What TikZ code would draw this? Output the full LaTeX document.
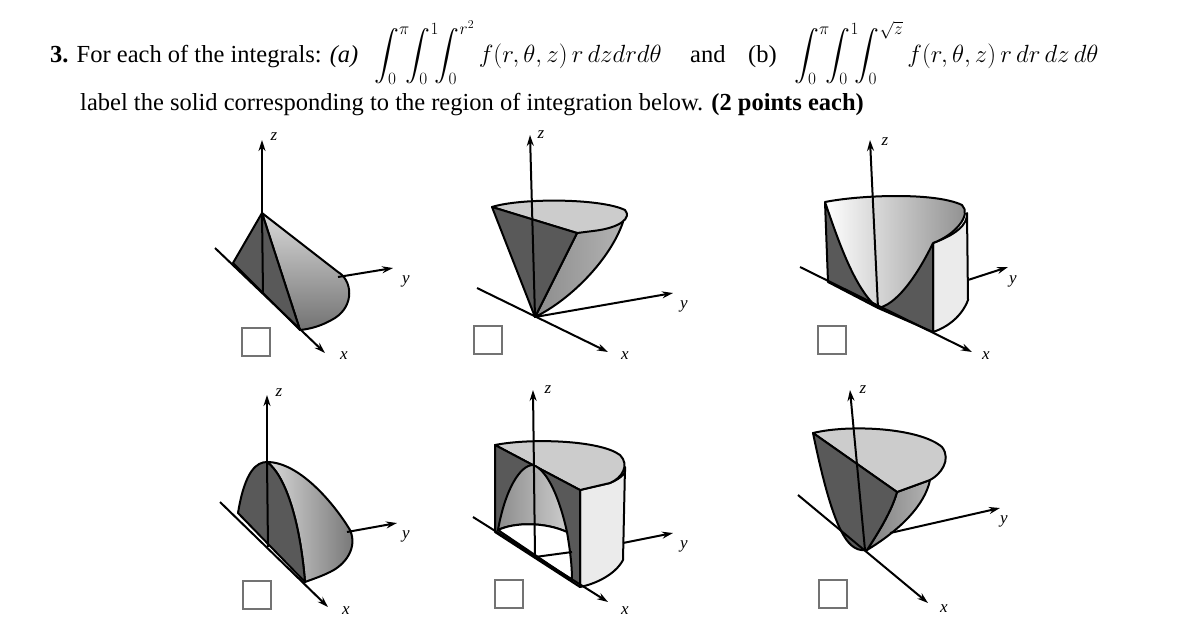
\documentclass[tikz,border=0pt]{standalone}
\usepackage{amsmath}
\usepackage{fontspec}
\setmainfont{Liberation Serif}
\usetikzlibrary{arrows.meta}
\begin{document}
\begin{tikzpicture}[x=1pt,y=-1pt,
  ax/.style={line width=2pt,-{Stealth[length=11pt,width=7pt]}},
  edg/.style={line width=2pt,line join=round},
  dk/.style={fill=black!65},
  lt/.style={fill=black!20},
  cyl/.style={fill=black!8},
  lab/.style={font=\fontsize{17}{17}\selectfont\itshape},
  txt/.style={anchor=base west,inner sep=0pt,font=\fontsize{24.5}{24.5}\selectfont},
  box/.style={draw=black!55,line width=1.3pt,minimum size=28pt,inner sep=0pt}]
\useasboundingbox (0,0) rectangle (1178,641);
\fill[white] (0,0) rectangle (1178,641);
% text
\node[txt] (t1) at (50,62) {\textbf{3.} For each of the integrals: \textit{(a)}};
\node[txt,font=\fontsize{23}{23}\selectfont] (ia) at (374,62) {$\displaystyle\int_0^{\pi}\!\!\int_0^{1}\!\!\int_0^{r^2} f(r,\theta,z)\,r\,dzdrd\theta$};
\node[txt] (and) at (690,62) {and};
\node[txt] (tb) at (748,62) {(b)};
\node[txt,font=\fontsize{23}{23}\selectfont] (ib) at (794,62) {$\displaystyle\int_0^{\pi}\!\!\int_0^{1}\!\!\int_0^{\sqrt{z}} f(r,\theta,z)\,r\,dr\,dz\,d\theta$};
\node[txt] (t2) at (80,110) {label the solid corresponding to the region of integration below. \textbf{(2 points each)}};

% ---------- panel 1
\shade[edg,draw=black,left color=black!15,right color=black!55,shading angle=0]
  (262,213) -- (338,272) .. controls (352,280) and (355,305) .. (335,318) .. controls (322,326) and (310,329) .. (300,330) -- cycle;
\draw[edg,dk] (233,263) -- (262,213) -- (300,330) -- cycle;
\draw[edg] (262,213) -- (263,293);
\draw[ax] (215,248) -- (325,353);
\draw[ax] (262,213) -- (262,140);
\draw[ax] (338,277) -- (393,268);
\node[lab] (z1) at (274,137) {z};
\node[lab] (x1) at (344,356) {x};
\node[lab] (y1) at (406,281) {y};
\node[box] (b1) at (256,342) {};

% ---------- panel 2
\shade[edg,draw=black,left color=black!45,right color=black!30]
  (577,233) -- (623,222) .. controls (610,260) and (570,300) .. (535,317) -- cycle;
\draw[edg,lt] (492,207) .. controls (520,198) and (600,198) .. (625,210) .. controls (632,218) and (620,228) .. (593,231) -- (577,233) -- cycle;
\draw[edg,dk] (492,207) -- (577,233) -- (535,317) -- cycle;
\draw[ax] (477,288) -- (608,352);
\draw[ax] (535,317) -- (673,293);
\draw[ax] (535,317) -- (530,135);
\node[lab] (z2) at (541,135) {z};
\node[lab] (x2) at (625,356) {x};
\node[lab] (y2) at (684,306) {y};
\node[box] (b2) at (488,340) {};

% ---------- panel 3
\draw[edg,cyl] (933,243) .. controls (955,235) and (968,225) .. (967,213) -- (968,300) .. controls (962,316) and (948,327) .. (933,332) -- cycle;
\shade[left color=white,right color=black!45] (825,202) .. controls (860,195) and (935,192) .. (962,205) .. controls (972,215) and (955,235) .. (933,243) .. controls (915,280) and (895,305) .. (878,308) .. controls (855,290) and (838,240) .. (825,202) -- cycle;
\draw[edg,dk] (825,202) .. controls (838,240) and (855,290) .. (878,308) -- (828,282) -- cycle;
\draw[edg,dk] (878,308) .. controls (895,305) and (915,280) .. (933,243) -- (933,332) -- cycle;
\draw[edg] (825,202) .. controls (860,195) and (935,192) .. (962,205) .. controls (972,215) and (955,235) .. (933,243);
\draw[ax] (800,267) -- (972,352);
\draw[ax] (968,280) -- (1008,267);
\draw[ax] (878,308) -- (870,140);
\node[lab] (z3) at (885,142) {z};
\node[lab] (x3) at (986,356) {x};
\node[lab] (y3) at (1013,281) {y};
\node[box] (b3) at (832,340) {};

% ---------- panel 4
\shade[edg,draw=black,left color=black!15,right color=black!55]
  (267,462) .. controls (300,462) and (335,505) .. (350,530) .. controls (358,548) and (345,565) .. (330,572) .. controls (320,577) and (310,580) .. (305,582) .. controls (300,520) and (285,475) .. (267,462) -- cycle;
\draw[edg,dk] (238,513) .. controls (245,470) and (257,462) .. (267,462) .. controls (285,475) and (300,520) .. (305,582) -- cycle;
\draw[edg] (267,462) -- (268,547);
\draw[ax] (220,502) -- (328,607);
\draw[ax] (267,462) -- (267,395);
\draw[ax] (347,532) -- (397,523);
\node[lab] (z4) at (279,393) {z};
\node[lab] (x4) at (346,611) {x};
\node[lab] (y4) at (406,536) {y};
\node[box] (b4) at (257,595) {};

% ---------- panel 5
\draw[edg,cyl] (580,490) -- (610,483) .. controls (622,478) and (627,472) .. (625,467) -- (623,560) .. controls (615,575) and (595,584) .. (580,587) -- cycle;
\draw[edg,lt] (495,445) .. controls (530,438) and (600,440) .. (620,455) .. controls (630,465) and (622,478) .. (610,483) -- (580,490) -- cycle;
\draw[edg,dk] (495,445) -- (580,490) -- (580,587) -- (495,532) -- cycle;
\shade[edg,draw=black,left color=black!45,right color=black!20] (498,530) .. controls (505,490) and (520,465) .. (533,465) .. controls (548,470) and (560,500) .. (567,532) .. controls (545,522) and (515,522) .. (498,530) -- cycle;
\draw[edg,fill=white] (498,530) .. controls (515,522) and (545,522) .. (567,532) .. controls (570,550) and (572,565) .. (572,580) -- cycle;
\draw[edg] (535,557) -- (572,552);
\draw[ax] (473,517) -- (608,602);
\draw[ax] (623,543) -- (673,533);
\draw[ax] (535,557) -- (533,390);
\node[lab] (z5) at (548,390) {z};
\node[lab] (x5) at (625,611) {x};
\node[lab] (y5) at (684,546) {y};
\node[box] (b5) at (509,594) {};

% ---------- panel 6
\shade[edg,draw=black,left color=black!50,right color=black!30]
  (897,492) -- (930,480) .. controls (925,505) and (900,530) .. (867,550) .. controls (880,530) and (892,510) .. (897,492) -- cycle;
\draw[edg,lt] (813,433) .. controls (850,424) and (920,428) .. (942,447) .. controls (952,460) and (940,475) .. (930,480) -- (897,492) -- cycle;
\draw[edg,dk] (813,433) -- (897,492) .. controls (892,510) and (880,530) .. (867,550) .. controls (850,552) and (835,540) .. (813,433) -- cycle;
\draw[ax] (798,495) -- (928,603);
\draw[ax] (890,533) -- (1000,508);
\draw[ax] (865,550) -- (850,390);
\node[lab] (z6) at (863,390) {z};
\node[lab] (x6) at (944,609) {x};
\node[lab] (y6) at (1004,521) {y};
\node[box] (b6) at (833,594) {};
\end{tikzpicture}
\end{document}
